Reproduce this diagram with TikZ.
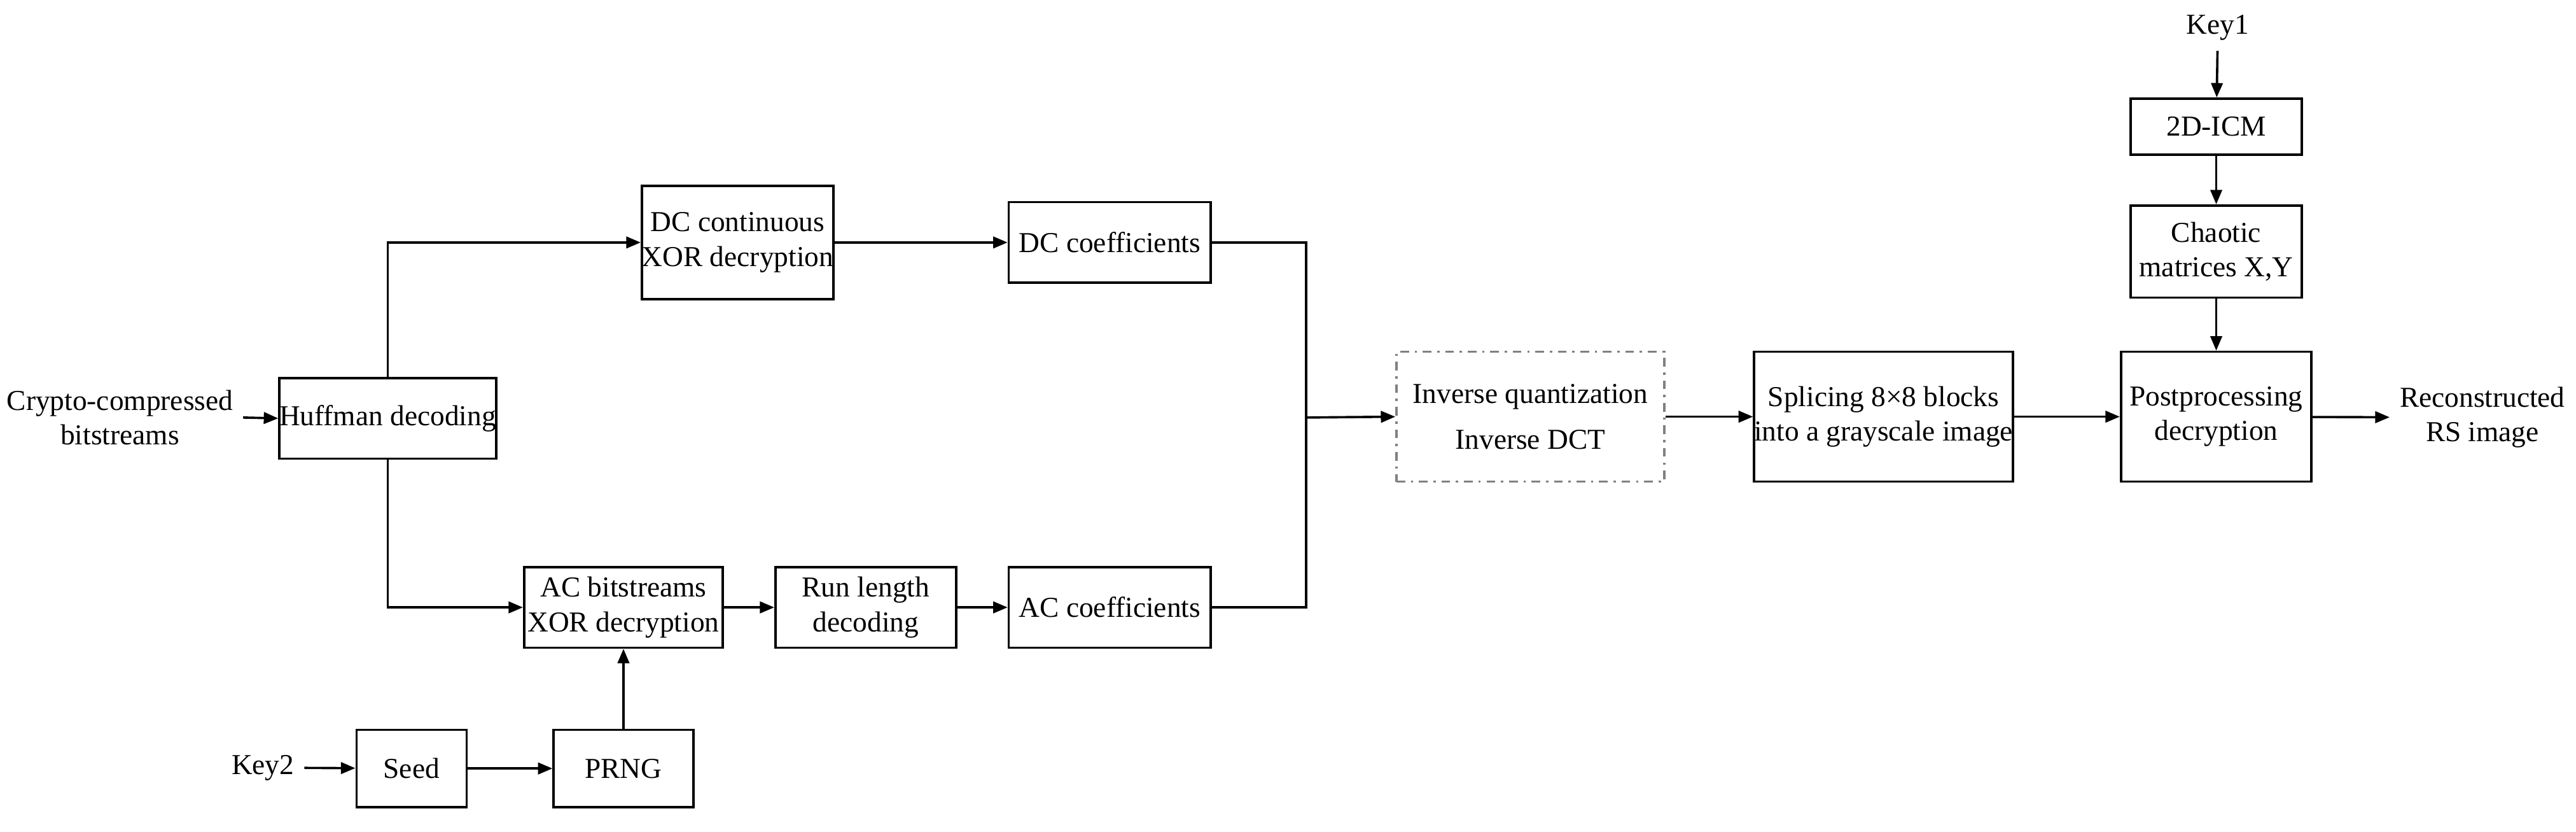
\documentclass[tikz,border=0pt]{standalone}
\usepackage{fontspec}
\setmainfont{Liberation Serif}
\usetikzlibrary{arrows.meta}
\begin{document}
\begin{tikzpicture}[x=0.02cm,y=-0.02cm,
  box/.style={draw,thick,align=center,inner sep=0pt,font=\fontsize{10}{12}\selectfont},
  lbl/.style={align=center,font=\fontsize{10}{12}\selectfont},
  arr/.style={thick,-{Triangle[length=5pt,width=4pt]}},
  ln/.style={thick}]
\useasboundingbox (0,0) rectangle (1568,506);
\newcommand{\bx}[6]{\node[box,minimum width={(#4-#2)*0.02cm},minimum height={(#5-#3)*0.02cm}] (#1) at ({(#2+#4)/2},{(#3+#5)/2}) {#6};}
\bx{huf}{175}{230}{297}{279}{Huffman decoding}
\bx{dcx}{391}{113}{507}{182}{DC continuous\\XOR decryption}
\bx{dcc}{614}{123}{737}{172}{DC coefficients}
\bx{acx}{319}{345}{440}{394}{AC bitstreams\\XOR decryption}
\bx{rl}{472}{345}{582}{394}{Run length\\decoding}
\bx{acc}{614}{345}{737}{394}{AC coefficients}
\bx{seed}{217}{444}{284}{491}{Seed}
\bx{prng}{337}{444}{422}{491}{PRNG}
\node[box,draw=gray,dash dot,minimum width={163*0.02cm},minimum height={79*0.02cm}] (inv) at (931.5,253.5) {Inverse quantization\\[4pt]Inverse DCT};
\bx{spl}{1074}{214}{1219}{293}{Splicing 8×8 blocks\\into a grayscale image}
\bx{post}{1291}{214}{1407}{293}{Postprocessing\\decryption}
\bx{icm}{1297}{60}{1401}{94}{2D-ICM}
\bx{cha}{1297}{125}{1401}{181}{Chaotic\\matrices X,Y}
\node[lbl] (key1) at (1350,17) {Key1};
\node[lbl] (key2) at (160,467) {Key2};
\node[lbl] (in) at (73,254) {Crypto-compressed\\bitstreams};
\node[lbl] (out) at (1511,254) {Reconstructed\\RS image};
\coordinate (m) at (795,254);
\draw[arr] (in.east) -- (huf.west);
\draw[arr] (huf.north) |- (dcx.west);
\draw[arr] (huf.south) |- (acx.west);
\draw[arr] (dcx.east) -- (dcx.east -| dcc.west);
\draw[arr] (acx) -- (rl);
\draw[arr] (rl) -- (acc);
\draw[arr] (key2) -- (seed);
\draw[arr] (seed) -- (prng);
\draw[arr] (prng) -- (acx);
\draw[ln] (dcc.east) -| (m);
\draw[ln] (acc.east) -| (m);
\draw[arr] (m) -- (inv.west);
\draw[arr] (inv) -- (spl);
\draw[arr] (spl) -- (post);
\draw[arr] (post) -- (out);
\draw[arr] (key1) -- (icm);
\draw[arr] (icm) -- (cha);
\draw[arr] (cha) -- (post);
\end{tikzpicture}
\end{document}
